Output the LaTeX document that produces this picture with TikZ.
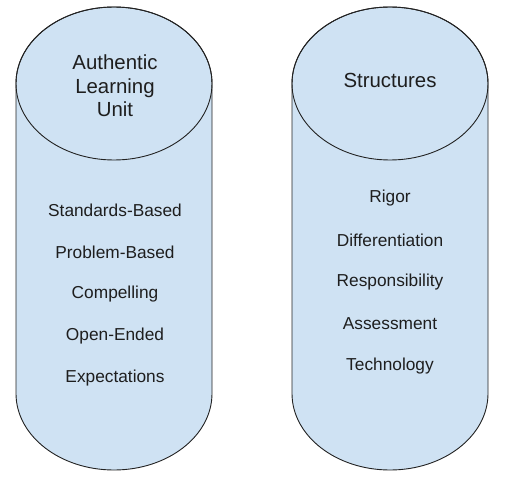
\documentclass[tikz,border=0pt]{standalone}
\usepackage{fontspec}
\setmainfont{Liberation Sans}
\definecolor{cylfill}{HTML}{CFE2F3}
\definecolor{cylline}{HTML}{222222}
\definecolor{txt}{HTML}{1E1E1E}
\begin{document}
\begin{tikzpicture}[x=1pt,y=-1pt,
  cylbody/.style={fill=cylfill,draw=cylline,line width=0.9pt},
  cyltop/.style={draw=cylline,line width=0.9pt},
  title/.style={text=txt,align=center,inner sep=0pt,font=\fontsize{20.4pt}{23.5pt}\selectfont},
  item/.style={text=txt,inner sep=0pt,font=\fontsize{17.3pt}{20pt}\selectfont}]
\useasboundingbox (0,0) rectangle (505,478);
% left cylinder
\path[cylbody] (16,83.5) -- (16,393.5) arc[start angle=180,end angle=360,x radius=98pt,y radius=76.5pt]
  -- (212,83.5) arc[start angle=0,end angle=180,x radius=98pt,y radius=76.5pt] -- cycle;
\draw[cyltop] (114,83.5) ellipse [x radius=98pt,y radius=76.5pt];
% right cylinder
\path[cylbody] (292,83.5) -- (292,393.5) arc[start angle=180,end angle=360,x radius=98pt,y radius=76.5pt]
  -- (488,83.5) arc[start angle=0,end angle=180,x radius=98pt,y radius=76.5pt] -- cycle;
\draw[cyltop] (390,83.5) ellipse [x radius=98pt,y radius=76.5pt];
% titles
\node[title] (t1) at (115,86) {Authentic\\Learning\\Unit};
\node[title] (t2) at (390,80) {Structures};
% left items
\node[item] (l1) at (115,210) {Standards-Based};
\node[item] (l2) at (115,252) {Problem-Based};
\node[item] (l3) at (115,294) {Compelling};
\node[item] (l4) at (115,336) {Open-Ended};
\node[item] (l5) at (115,378) {Expectations};
% right items
\node[item] (r1) at (390,198) {Rigor};
\node[item] (r2) at (390,240) {Differentiation};
\node[item] (r3) at (390,282) {Responsibility};
\node[item] (r4) at (390,324) {Assessment};
\node[item] (r5) at (390,366) {Technology};
\end{tikzpicture}
\end{document}
